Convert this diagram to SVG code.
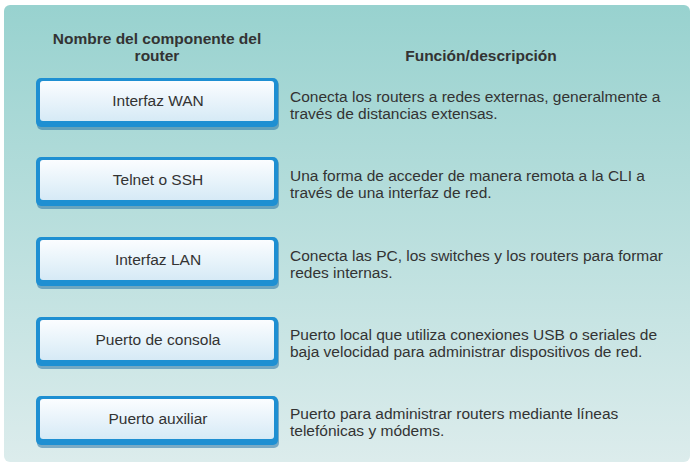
<svg xmlns="http://www.w3.org/2000/svg" width="694" height="466" viewBox="0 0 694 466">
<defs>
<linearGradient id="bg" x1="0" y1="0" x2="0" y2="1"><stop offset="0" stop-color="#98d2cf"/><stop offset="1" stop-color="#dcecec"/></linearGradient>
<linearGradient id="bf" x1="0" y1="0" x2="0" y2="1"><stop offset="0" stop-color="#fbfdff"/><stop offset="1" stop-color="#d6eaf6"/></linearGradient>
<style>
.o{fill:#1e8fd2}
.i{fill:url(#bf)}
.s{fill:#1a6aa0;opacity:.5}
.l{font-family:"Liberation Sans",Arial,sans-serif;font-size:15.5px;fill:#333;text-anchor:middle}
.d{font-family:"Liberation Sans",Arial,sans-serif;font-size:15.5px;fill:#333}
.h{font-family:"Liberation Sans",Arial,sans-serif;font-size:15.5px;font-weight:bold;fill:#333;text-anchor:middle}
</style>
</defs>
<rect x="4" y="5" width="686" height="457" rx="6" fill="url(#bg)"/>
<text class="h" x="157" y="44">Nombre del componente del</text>
<text class="h" x="157" y="61">router</text>
<text class="h" x="481" y="61">Función/descripción</text>
<g id="n1"><rect class="s" x="37" y="80" width="242" height="50" rx="5"/><rect class="o" x="36" y="78" width="242" height="49" rx="5"/><rect class="i" x="40" y="81" width="234" height="40" rx="3"/><text class="l" x="158" y="106">Interfaz WAN</text>
<text class="d" x="290" y="102">Conecta los routers a redes externas, generalmente a</text><text class="d" x="290" y="119">través de distancias extensas.</text></g>
<g id="n2"><rect class="s" x="37" y="159" width="242" height="50" rx="5"/><rect class="o" x="36" y="157" width="242" height="49" rx="5"/><rect class="i" x="40" y="160" width="234" height="40" rx="3"/><text class="l" x="158" y="185">Telnet o SSH</text>
<text class="d" x="290" y="181">Una forma de acceder de manera remota a la CLI a</text><text class="d" x="290" y="198">través de una interfaz de red.</text></g>
<g id="n3"><rect class="s" x="37" y="239" width="242" height="50" rx="5"/><rect class="o" x="36" y="237" width="242" height="49" rx="5"/><rect class="i" x="40" y="240" width="234" height="40" rx="3"/><text class="l" x="158" y="265">Interfaz LAN</text>
<text class="d" x="290" y="261">Conecta las PC, los switches y los routers para formar</text><text class="d" x="290" y="278">redes internas.</text></g>
<g id="n4"><rect class="s" x="37" y="319" width="242" height="50" rx="5"/><rect class="o" x="36" y="317" width="242" height="49" rx="5"/><rect class="i" x="40" y="320" width="234" height="40" rx="3"/><text class="l" x="158" y="345">Puerto de consola</text>
<text class="d" x="290" y="340">Puerto local que utiliza conexiones USB o seriales de</text><text class="d" x="290" y="357">baja velocidad para administrar dispositivos de red.</text></g>
<g id="n5"><rect class="s" x="37" y="398" width="242" height="50" rx="5"/><rect class="o" x="36" y="396" width="242" height="49" rx="5"/><rect class="i" x="40" y="399" width="234" height="40" rx="3"/><text class="l" x="158" y="424">Puerto auxiliar</text>
<text class="d" x="290" y="419">Puerto para administrar routers mediante líneas</text><text class="d" x="290" y="436">telefónicas y módems.</text></g>
<g id="connectors"/>
</svg>
